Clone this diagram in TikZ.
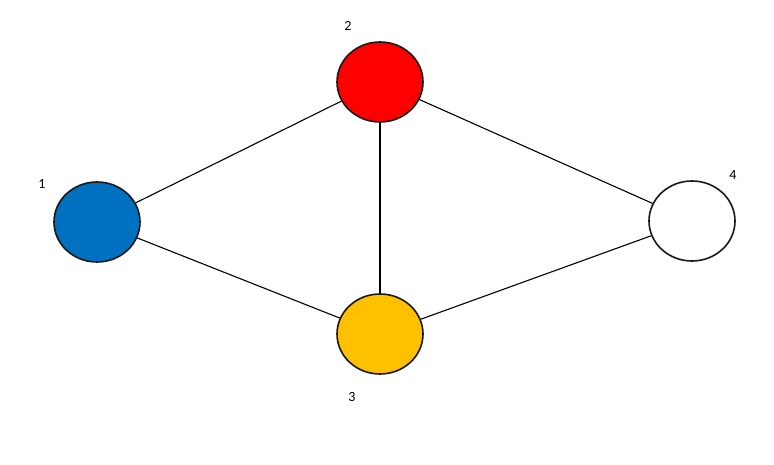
\documentclass[tikz,border=0pt]{standalone}
\usepackage{fontspec}
\setmainfont{Carlito}
\usetikzlibrary{shapes.geometric}
\definecolor{cblue}{HTML}{0070C0}
\definecolor{cred}{HTML}{FF0000}
\definecolor{cyel}{HTML}{FFC000}
\begin{document}
\begin{tikzpicture}[x=1pt,y=-1pt,
  vert/.style={ellipse,draw=black!90,line width=1.6pt,minimum width=86pt,minimum height=80pt,inner sep=0pt},
  lab/.style={font=\fontsize{14pt}{16pt}\selectfont},
  edge/.style={line width=1.1pt}]
\useasboundingbox (0,0) rectangle (774,465);
\node[vert,fill=cblue] (n1) at (97,222) {};
\node[vert,fill=cred] (n2) at (380,82) {};
\node[vert,fill=cyel] (n3) at (380,334) {};
\node[vert,fill=white] (n4) at (692,221) {};
\node[lab] (l1) at (42,184) {1};
\node[lab] (l2) at (348,26) {2};
\node[lab] (l3) at (352,397) {3};
\node[lab] (l4) at (733,175) {4};
\draw[edge] (n1) -- (n2);
\draw[edge] (n1) -- (n3);
\draw[edge] (n2) -- (n3);
\draw[edge] (n2) -- (n4);
\draw[edge] (n3) -- (n4);
\end{tikzpicture}
\end{document}
